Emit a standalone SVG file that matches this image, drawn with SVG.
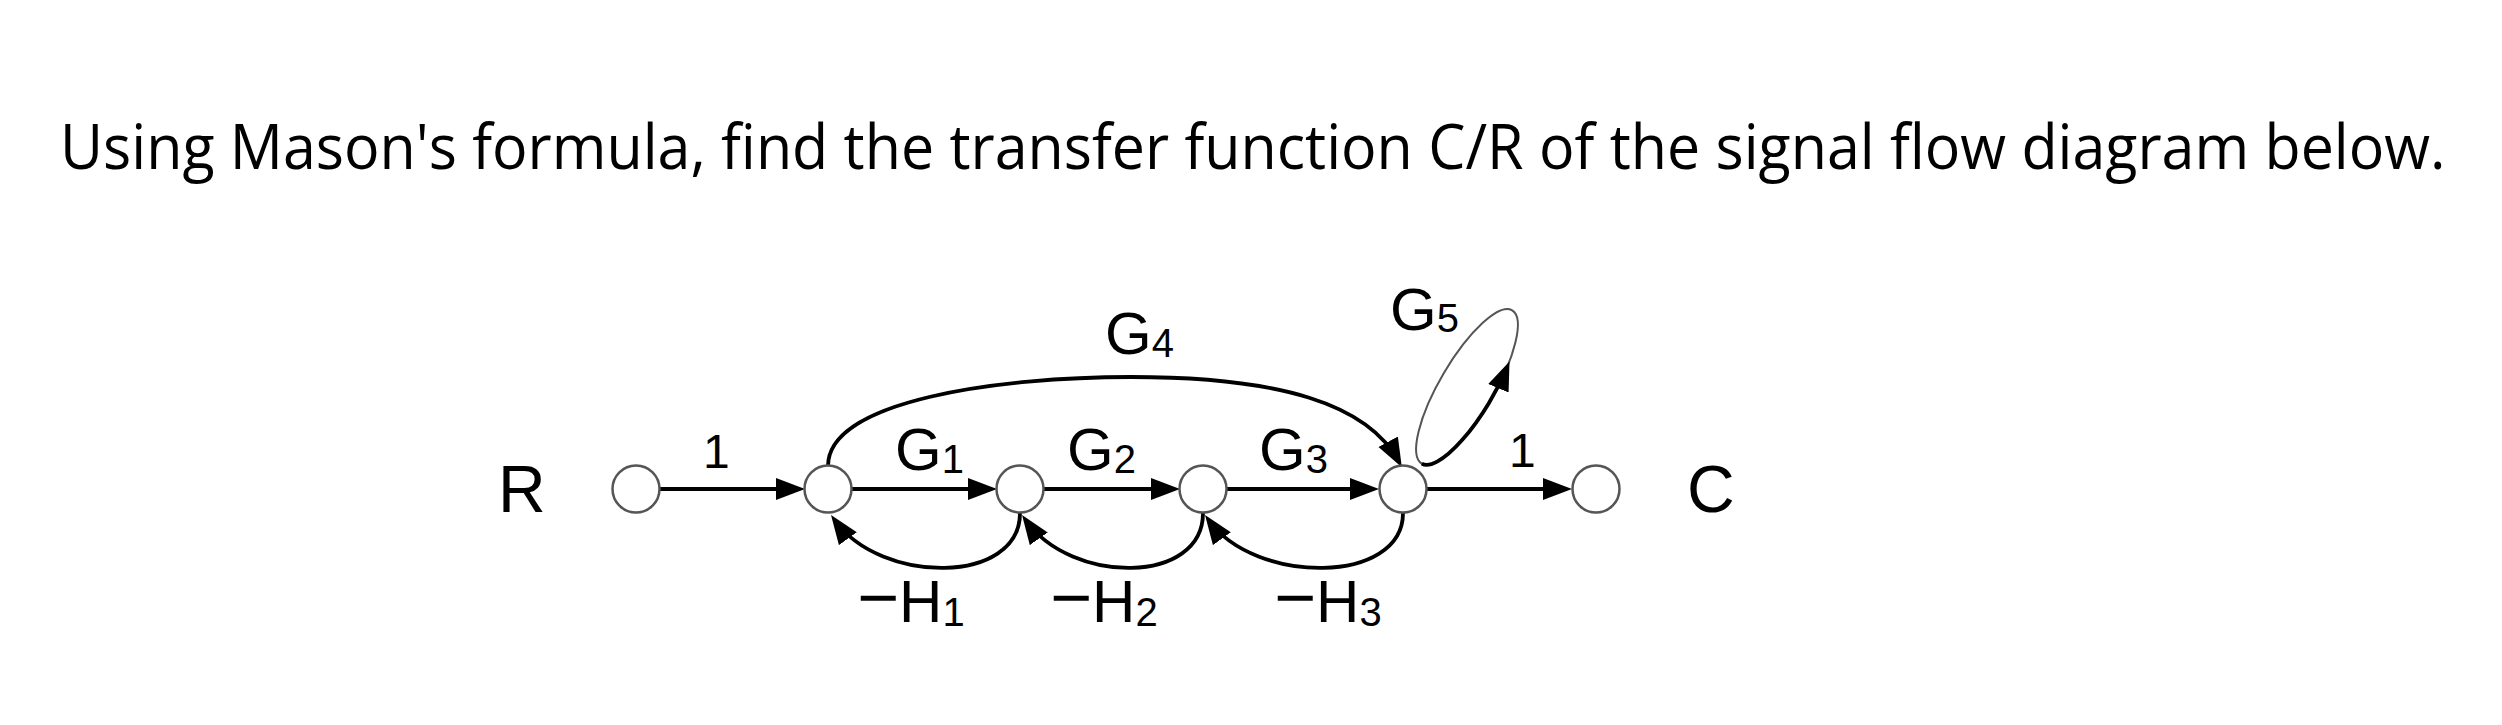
<svg xmlns="http://www.w3.org/2000/svg" width="2502" height="725" viewBox="0 0 2502 725">
<style>
.node{fill:#fff;stroke:#555;stroke-width:2.5}
.edge{fill:none;stroke:#000;stroke-width:3.8;marker-end:url(#arr)}
.lbl{font-family:"Liberation Sans",Arial,sans-serif;font-size:60px;fill:#000}
.sub{font-size:40px}
.minus{font-size:72px}
.one{font-family:"Liberation Sans",Arial,sans-serif;font-size:48px;fill:#000}
.io{font-family:"Liberation Sans",Arial,sans-serif;font-size:66px;fill:#000}
.title{font-family:"Open Sans","Noto Sans",sans-serif;font-size:63px;fill:#000}
</style>
<defs>
<marker id="arr" markerUnits="userSpaceOnUse" markerWidth="32" markerHeight="24" refX="23" refY="11" orient="auto">
<path d="M0,0 L29,11 L0,22 Z" fill="#000"/>
</marker>
</defs>
<rect width="2502" height="725" fill="#fff"/>
<text class="title" transform="scale(0.8,1)" x="75" y="169" textLength="2982" lengthAdjust="spacingAndGlyphs">Using Mason's formula, find the transfer function C/R of the signal flow diagram below.</text>

<g id="connectors">
<path class="edge" d="M660,489 H799"/>
<path class="edge" d="M852,489 H991"/>
<path class="edge" d="M1043,489 H1174"/>
<path class="edge" d="M1227,489 H1373"/>
<path class="edge" d="M1427,489 H1566"/>
<path class="edge" d="M1020,513 C1020,585 881,585 834.5,520"/>
<path class="edge" d="M1203,513 C1203,585 1071.5,585 1025.5,520"/>
<path class="edge" d="M1403,513 C1403,585 1255,585 1208.5,520"/>
<path class="edge" d="M828,466 C828,400 1000,377 1131,377 C1280,377 1368,404 1399,462"/>
<ellipse cx="1467" cy="387" rx="89" ry="27" transform="rotate(-59.5 1467 387)" fill="none" stroke="#555" stroke-width="2"/>
<path class="edge" d="M1421.8,463.7 A89,27 -59.5 0 0 1507.2,367"/>
</g>

<g id="node-R"><circle class="node" cx="636" cy="489" r="23.5"/><text class="io" x="498" y="512">R</text></g>
<g id="node-1"><circle class="node" cx="828" cy="489" r="23.5"/></g>
<g id="node-2"><circle class="node" cx="1020" cy="489" r="23.5"/></g>
<g id="node-3"><circle class="node" cx="1203" cy="489" r="23.5"/></g>
<g id="node-4"><circle class="node" cx="1403" cy="489" r="23.5"/></g>
<g id="node-C"><circle class="node" cx="1596" cy="489" r="23.5"/><text class="io" x="1687" y="512">C</text></g>

<g id="labels">
<text class="one" x="703" y="468">1</text>
<text class="one" x="1509" y="467">1</text>
<text class="lbl" x="895" y="470">G<tspan class="sub" dy="3">1</tspan></text>
<text class="lbl" x="1067" y="470">G<tspan class="sub" dy="3">2</tspan></text>
<text class="lbl" x="1259" y="470">G<tspan class="sub" dy="3">3</tspan></text>
<text class="lbl" x="1105" y="354">G<tspan class="sub" dy="3">4</tspan></text>
<text class="lbl" x="1390" y="330">G<tspan class="sub" dy="2">5</tspan></text>
<text class="lbl" x="857" y="622"><tspan class="minus">−</tspan>H<tspan class="sub" dy="4">1</tspan></text>
<text class="lbl" x="1050" y="622"><tspan class="minus">−</tspan>H<tspan class="sub" dy="4">2</tspan></text>
<text class="lbl" x="1274" y="622"><tspan class="minus">−</tspan>H<tspan class="sub" dy="4">3</tspan></text>
</g>
</svg>
